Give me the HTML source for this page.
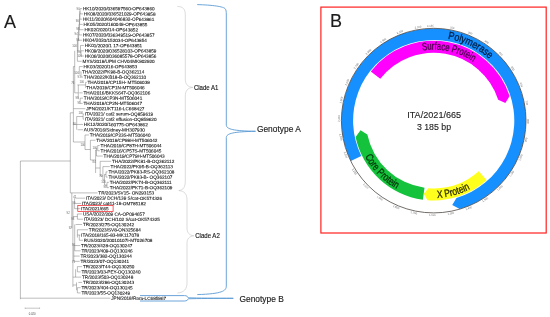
<!DOCTYPE html>
<html><head><meta charset="utf-8"><title>Figure</title>
<style>html,body{margin:0;padding:0;background:#fff}svg{display:block}</style></head>
<body><svg width="550" height="317" viewBox="0 0 550 317">
<rect width="550" height="317" fill="#fff"/>
<g font-family="'Liberation Sans', sans-serif" font-size="4.67" fill="#111" stroke="#111" stroke-width="0.09" text-rendering="geometricPrecision">
<text transform="translate(82.9 10.25) rotate(0.1)">HK10/2020/036597560-OP643860</text>
<text transform="translate(83.8 15.52) rotate(0.1)">HK08/2020/036521029-OP643858</text>
<text transform="translate(82.9 20.78) rotate(0.1)">HK11/2020/604046832-OP643861</text>
<text transform="translate(83.5 26.05) rotate(0.1)">HK05/2020/160049-OP643855</text>
<text transform="translate(84.4 31.31) rotate(0.1)">HK02/2020/14-OP643852</text>
<text transform="translate(82.9 36.58) rotate(0.1)">HK07/2020/036349519-OP643857</text>
<text transform="translate(82.9 41.84) rotate(0.1)">HK04/2020/152034-OP643854</text>
<text transform="translate(84.7 47.11) rotate(0.1)">HK01/2020/1 17-OP643851</text>
<text transform="translate(84.7 52.37) rotate(0.1)">HK09/2020/036528103-OP643859</text>
<text transform="translate(84.7 57.64) rotate(0.1)">HK06/2020/036085578-OP643856</text>
<text transform="translate(82.5 62.90) rotate(0.1)">MYS/2019/UPM CHV04MK902920</text>
<text transform="translate(83.5 68.17) rotate(0.1)">HK03/2020/16-OP643853</text>
<text transform="translate(82.0 73.43) rotate(0.1)">THA/2022/PK98-B-OQ362114</text>
<text transform="translate(83.8 78.70) rotate(0.1)">THA/2022/KB18-B-OQ362110</text>
<text transform="translate(87.5 83.96) rotate(0.1)">THA/2019/CP15H- MT506039</text>
<text transform="translate(86.2 89.23) rotate(0.1)">THA/2019/CP1N-MT506046</text>
<text transform="translate(83.5 94.49) rotate(0.1)">THA/2016/BKKS647-OQ362106</text>
<text transform="translate(83.8 99.76) rotate(0.1)">THA/2019/CP3N-MT506041</text>
<text transform="translate(83.5 105.02) rotate(0.1)">THA/2019/CP2N-MT506047</text>
<text transform="translate(86.2 110.29) rotate(0.1)">JPN/2021/KT116-LC668427</text>
<text transform="translate(84.7 115.55) rotate(0.1)">ITA/2021/ cat2 serum-OQ859619</text>
<text transform="translate(84.7 120.82) rotate(0.1)">ITA/2021/ cat2 effusion-OQ859620</text>
<text transform="translate(83.8 126.08) rotate(0.1)">HK12/2020/160775-OP643862</text>
<text transform="translate(83.8 131.35) rotate(0.1)">AUS/2016/Sidney-MH307930</text>
<text transform="translate(89.7 136.61) rotate(0.1)">THA/2019/CP23S-MT506040</text>
<text transform="translate(96.3 141.88) rotate(0.1)">THA/2019/CP99H-MT506042</text>
<text transform="translate(100.6 147.14) rotate(0.1)">THA/2019/CP87H-MT506044</text>
<text transform="translate(100.6 152.41) rotate(0.1)">THA/2016/CP57S-MT506045</text>
<text transform="translate(103.6 157.67) rotate(0.1)">THA/2019/CP79H-MT506043</text>
<text transform="translate(112.0 162.94) rotate(0.1)">THA/2022/PK81-B-OQ362112</text>
<text transform="translate(110.6 168.20) rotate(0.1)">THA/2022/PK95-B-OQ362113</text>
<text transform="translate(108.4 173.47) rotate(0.1)">THA/2022/PK83-RS-OQ362108</text>
<text transform="translate(108.4 178.73) rotate(0.1)">THA/2022/PK83-B- OQ362107</text>
<text transform="translate(109.7 184.00) rotate(0.1)">THA/2022/PK74-B-OQ362111</text>
<text transform="translate(109.7 189.26) rotate(0.1)">THA/2022/PK71-B-OQ362109</text>
<text transform="translate(98.3 194.53) rotate(0.1)">TR/2023/SV15- ON293153</text>
<text transform="translate(86.0 199.79) rotate(0.1)">ITA/2023/ DCH/139 S/cat-OK574326</text>
<text transform="translate(82.0 205.06) rotate(0.1)">ITA/2023/ cat41-19-OM785182</text>
<text transform="translate(81.1 210.32) rotate(0.1)">ITA/2021/665</text>
<text transform="translate(82.9 215.59) rotate(0.1)">USA/2022/209 CA-OP094657</text>
<text transform="translate(83.8 220.85) rotate(0.1)">ITA/2023/ DCH/102 S/cat-OK574325</text>
<text transform="translate(82.9 226.12) rotate(0.1)">TR/2023/275-OQ130242</text>
<text transform="translate(88.8 231.38) rotate(0.1)">TR/2023/SV8-ON325684</text>
<text transform="translate(81.1 236.65) rotate(0.1)">ITA/2018/165-83-MK117078</text>
<text transform="translate(83.8 241.91) rotate(0.1)">RUS/2020/20010107I-MT026708</text>
<text transform="translate(81.1 247.18) rotate(0.1)">TR/2023/428-OQ130247</text>
<text transform="translate(81.4 252.44) rotate(0.1)">TR/2023/409-OQ130246</text>
<text transform="translate(80.5 257.71) rotate(0.1)">TR/2023/382-OQ130244</text>
<text transform="translate(80.5 262.97) rotate(0.1)">TR/2023/07-OQ130241</text>
<text transform="translate(82.9 268.24) rotate(0.1)">TR/2023/T44-OQ130250</text>
<text transform="translate(81.4 273.50) rotate(0.1)">TR/2023/03-PEY-OQ130240</text>
<text transform="translate(82.0 278.77) rotate(0.1)">TR/2023/503-OQ130248</text>
<text transform="translate(82.9 284.03) rotate(0.1)">TR/2023/296-OQ130243</text>
<text transform="translate(81.4 289.30) rotate(0.1)">TR/2023/404-OQ130245</text>
<text transform="translate(81.4 294.56) rotate(0.1)">TR/2023/55-OQ130249</text>
<text transform="translate(111.2 299.83) rotate(0.1)">JPN/2018/Rara-LC685967</text>
</g>
<g stroke="#585858" stroke-width="0.4" fill="none">
<path d="M80.00 8.63H82.10"/>
<path d="M80.00 13.89H83.00"/>
<path d="M79.80 19.16H82.10"/>
<path d="M79.60 24.42H82.70"/>
<path d="M79.40 29.69H83.60"/>
<path d="M79.00 34.95H82.10"/>
<path d="M78.60 40.22H82.10"/>
<path d="M80.50 45.48H83.90"/>
<path d="M81.00 50.75H83.90"/>
<path d="M81.00 56.02H83.90"/>
<path d="M77.40 61.28H81.70"/>
<path d="M79.30 66.55H82.70"/>
<path d="M80.60 71.81H81.20"/>
<path d="M81.00 77.07H83.00"/>
<path d="M85.60 82.34H86.70"/>
<path d="M85.00 87.60H85.40"/>
<path d="M79.30 92.87H82.70"/>
<path d="M80.20 98.13H83.00"/>
<path d="M80.20 103.40H82.70"/>
<path d="M73.40 108.66H85.40"/>
<path d="M83.10 113.93H83.90"/>
<path d="M83.10 119.19H83.90"/>
<path d="M76.70 124.46H83.00"/>
<path d="M77.60 129.72H83.00"/>
<path d="M85.00 134.99H88.90"/>
<path d="M90.40 140.25H95.50"/>
<path d="M97.70 145.52H99.80"/>
<path d="M97.70 150.78H99.80"/>
<path d="M96.50 156.05H102.80"/>
<path d="M100.20 161.31H111.20"/>
<path d="M102.90 166.58H109.80"/>
<path d="M106.00 171.84H107.60"/>
<path d="M106.00 177.11H107.60"/>
<path d="M107.00 182.37H108.90"/>
<path d="M107.00 187.64H108.90"/>
<path d="M70.30 192.90H97.50"/>
<path d="M75.50 198.17H85.20"/>
<path d="M74.60 203.43H81.20"/>
<path d="M74.60 208.70H80.30"/>
<path d="M77.40 213.96H82.10"/>
<path d="M77.40 219.23H83.00"/>
<path d="M75.60 224.49H82.10"/>
<path d="M77.40 229.76H88.00"/>
<path d="M77.40 235.02H80.30"/>
<path d="M79.30 240.29H83.00"/>
<path d="M74.70 245.55H80.30"/>
<path d="M74.70 250.82H80.60"/>
<path d="M73.80 256.08H79.70"/>
<path d="M73.80 261.35H79.70"/>
<path d="M77.40 266.61H82.10"/>
<path d="M77.40 271.88H80.60"/>
<path d="M75.60 277.14H81.20"/>
<path d="M78.30 282.41H82.10"/>
<path d="M77.40 287.67H80.60"/>
<path d="M77.40 292.94H80.60"/>
<path d="M20.40 298.20H110.40"/>
<path d="M20.40 161.00H70.30"/>
<path d="M70.30 112.80H73.40"/>
<path d="M73.40 142.00H85.00"/>
<path d="M85.00 149.50H90.40"/>
<path d="M90.40 160.00H95.60"/>
<path d="M95.60 168.00H100.20"/>
<path d="M95.60 150.00H96.50"/>
<path d="M77.40 84.94H85.60"/>
<path d="M74.70 92.87H78.30"/>
<path d="M73.40 66.55H74.70"/>
<path d="M73.40 124.46H76.70"/>
<path d="M76.70 116.53H83.10"/>
<path d="M72.90 216.56H77.40"/>
<path d="M72.90 277.14H75.60"/>
<path d="M72.90 285.01H76.50"/>
<path d="M100.20 176.00H102.90"/>
<path d="M102.90 180.00H104.50"/>
<path d="M104.50 174.44H106.00"/>
<path d="M104.50 184.97H107.00"/>
<path d="M80.00 8.63V13.89"/>
<path d="M79.80 11.23V19.16"/>
<path d="M79.60 13.89V24.42"/>
<path d="M79.40 19.16V29.69"/>
<path d="M79.00 24.42V34.95"/>
<path d="M78.60 29.69V40.22"/>
<path d="M81.00 50.75V56.02"/>
<path d="M80.50 45.48V53.35"/>
<path d="M78.00 34.95V50.75"/>
<path d="M77.40 40.22V61.28"/>
<path d="M79.30 66.55V74.41"/>
<path d="M81.00 71.81V77.07"/>
<path d="M74.70 50.75V92.87"/>
<path d="M85.60 82.34V87.60"/>
<path d="M78.30 84.94V99.13"/>
<path d="M80.20 98.13V103.40"/>
<path d="M73.40 66.55V142.00"/>
<path d="M83.10 113.93V119.19"/>
<path d="M76.70 116.53V129.72"/>
<path d="M70.30 112.80V192.90"/>
<path d="M85.00 134.99V149.50"/>
<path d="M90.40 140.25V160.00"/>
<path d="M95.60 150.00V173.00"/>
<path d="M97.70 145.52V150.78"/>
<path d="M96.50 148.12V156.05"/>
<path d="M100.20 161.31V176.00"/>
<path d="M102.90 166.58V180.00"/>
<path d="M106.00 171.84V177.11"/>
<path d="M107.00 182.37V187.64"/>
<path d="M104.50 174.44V184.97"/>
<path d="M71.80 192.90V228.00"/>
<path d="M74.60 198.17V208.70"/>
<path d="M72.90 203.43V287.00"/>
<path d="M77.40 213.96V219.23"/>
<path d="M77.40 229.76V237.62"/>
<path d="M79.30 235.02V240.29"/>
<path d="M74.70 224.49V250.82"/>
<path d="M73.80 245.55V261.35"/>
<path d="M77.40 266.61V271.88"/>
<path d="M75.60 269.21V277.14"/>
<path d="M77.40 287.67V292.94"/>
<path d="M76.50 282.41V290.27"/>
<path d="M20.40 161.00V299.20"/>
</g>
<g font-family="'Liberation Sans', sans-serif" font-size="2.8" fill="#666">
<text x="76.6" y="9.50">90</text>
<text x="75.8" y="21.80">90</text>
<text x="74.6" y="34.80">94</text>
<text x="76.2" y="30.30">98</text>
<text x="72.2" y="46.80">100</text>
<text x="76.2" y="40.80">96</text>
<text x="77.0" y="53.30">99</text>
<text x="77.3" y="57.30">100</text>
<text x="74.3" y="73.80">100</text>
<text x="77.6" y="78.00">91</text>
<text x="71.2" y="83.80">76</text>
<text x="79.5" y="82.80">100</text>
<text x="75.5" y="98.80">99</text>
<text x="77.5" y="104.00">91</text>
<text x="78.5" y="114.30">100</text>
<text x="72.8" y="124.80">80</text>
<text x="80.5" y="145.80">100</text>
<text x="92.5" y="148.80">100</text>
<text x="92.6" y="162.80">84</text>
<text x="99.2" y="177.40">70</text>
<text x="101.2" y="182.80">100</text>
<text x="103.4" y="188.40">98</text>
<text x="73.2" y="198.30">41</text>
<text x="72.2" y="203.80">99</text>
<text x="66.6" y="213.50">92</text>
<text x="71.2" y="219.80">98</text>
<text x="68.8" y="229.30">92</text>
<text x="72.0" y="245.50">96</text>
<text x="72.0" y="262.60">71</text>
</g>
<rect x="77.8" y="205.4" width="35.3" height="6.0" fill="none" stroke="#ee1c25" stroke-width="0.7"/>
<path d="M25.1 308.2H39.6M25.1 307.6V308.8M39.6 307.6V308.8" stroke="#555" stroke-width="0.35" fill="none"/>
<text x="28.8" y="314.5" font-family="'Liberation Sans', sans-serif" font-size="2.7" fill="#444">0.020</text>
<g fill="none" stroke="#c4c4c4" stroke-width="0.6">
<path d="M177.4 6.4 C183 6.6 185.3 9 185.3 15 V79 C185.3 84 187.5 87 192.9 87.4 C187.5 87.8 185.3 91 185.3 96 V181 C185.3 187 183.5 190 178.8 190.6"/>
<path d="M178.8 190.6 C184.5 191 187 194 187 200 V228 C187 232.5 189 235.3 193.9 235.8 C189 236.3 187 239 187 243.5 V283 C187 289 184 292.5 177.5 293"/>
</g>
<g fill="none" stroke="#5b9bd5" stroke-width="0.9">
<path d="M197.2 4.6 C212 5 224 6.5 225.4 9 C226 10 226.3 11.5 226.3 14 V125 C226.3 129.3 234 130.9 255.5 131.3 C234 131.7 226.3 133.3 226.3 137.6 V286 C226.3 291 222 293.8 197.3 294.6"/>
<path d="M140 295.6 H184.5 C186.8 295.6 187.6 296.6 188.3 297.8 C197 298.1 215 298.2 233.3 298.3 C215 298.4 197 298.5 188.3 298.8 C187.6 300 186.8 301 184.5 301 H140"/>
</g>
<g font-family="'Liberation Sans', sans-serif" fill="#1c1c1c" stroke="#1c1c1c" stroke-width="0.15">
<text transform="translate(193.9 89.7) scale(0.905 1)" font-size="6.7">Clade A1</text>
<text transform="translate(195.2 238.1) scale(0.905 1)" font-size="6.7">Clade A2</text>
<text transform="translate(256.9 131.9) scale(0.955 1)" font-size="8.8">Genotype A</text>
<text transform="translate(239.5 301.5) scale(0.955 1)" font-size="8.8">Genotype B</text>
<text x="4.0" y="28.4" font-size="18">A</text>
<text x="330.0" y="27.1" font-size="18">B</text>
</g>
<rect x="320.9" y="7.1" width="225.3" height="225.9" fill="none" stroke="#ff2020" stroke-width="1.2"/>
<path d="M350.83 161.02 A92.20 92.20 0 1 1 459.73 209.05 L452.25 204.98 L456.46 197.92 A80.60 80.60 0 1 0 361.26 155.93 Z" fill="#1690ff"/>
<path d="M370.82 71.47 A79.80 79.80 0 0 1 509.59 95.94 L505.37 103.00 L498.18 99.65 A67.80 67.80 0 0 0 380.27 78.86 Z" fill="#ff00ff"/>
<path d="M422.87 199.66 A79.80 79.80 0 0 1 355.59 136.92 L360.55 130.36 L367.33 134.46 A67.80 67.80 0 0 0 424.50 187.77 Z" fill="#14c23c"/>
<path d="M486.68 180.27 A79.80 79.80 0 0 1 427.44 200.15 L423.81 193.73 L428.38 188.19 A67.80 67.80 0 0 0 478.71 171.30 Z" fill="#ffff1e"/>
<circle cx="433.70" cy="120.60" r="92.3" fill="none" stroke="#4e4842" stroke-width="0.8"/>
<g font-family="'Liberation Sans', sans-serif" font-size="2.7" fill="#6e6e6e" text-anchor="middle">
<text transform="translate(452.08 28.62) rotate(11.30)">100</text>
<text transform="translate(469.76 34.01) rotate(22.61)">200</text>
<text transform="translate(486.03 42.75) rotate(33.91)">300</text>
<text transform="translate(500.27 54.52) rotate(45.21)">400</text>
<text transform="translate(511.93 68.85) rotate(56.51)">500</text>
<text transform="translate(520.56 85.19) rotate(67.82)">600</text>
<text transform="translate(525.81 102.90) rotate(79.12)">700</text>
<text transform="translate(529.00 121.31) rotate(270.42)">800</text>
<text transform="translate(527.01 139.97) rotate(281.73)">900</text>
<text transform="translate(521.40 157.88) rotate(293.03)">1,000</text>
<text transform="translate(512.40 174.35) rotate(304.33)">1,100</text>
<text transform="translate(500.34 188.73) rotate(315.64)">1,200</text>
<text transform="translate(485.69 200.47) rotate(326.94)">1,300</text>
<text transform="translate(469.03 209.11) rotate(338.24)">1,400</text>
<text transform="translate(450.99 214.32) rotate(349.54)">1,500</text>
<text transform="translate(432.29 215.89) rotate(360.85)">1,600</text>
<text transform="translate(413.64 213.77) rotate(372.15)">1,700</text>
<text transform="translate(395.77 208.03) rotate(383.45)">1,800</text>
<text transform="translate(379.37 198.90) rotate(394.76)">1,900</text>
<text transform="translate(365.08 186.73) rotate(406.06)">2,000</text>
<text transform="translate(353.45 172.00) rotate(417.36)">2,100</text>
<text transform="translate(344.93 155.27) rotate(428.67)">2,200</text>
<text transform="translate(339.86 137.20) rotate(439.97)">2,300</text>
<text transform="translate(339.92 118.52) rotate(271.27)">2,400</text>
<text transform="translate(342.15 100.18) rotate(282.57)">2,500</text>
<text transform="translate(347.93 82.63) rotate(293.88)">2,600</text>
<text transform="translate(357.03 66.56) rotate(305.18)">2,700</text>
<text transform="translate(369.11 52.58) rotate(316.48)">2,800</text>
<text transform="translate(383.70 41.24) rotate(327.79)">2,900</text>
<text transform="translate(400.22 32.98) rotate(339.09)">3,000</text>
<text transform="translate(418.04 28.12) rotate(350.39)">3,100</text>
<text transform="translate(430.26 26.86) rotate(357.90)">3,185</text>
</g>
<path id="arc1" d="M447.84 38.71 A83.10 83.10 0 0 1 495.65 65.21" fill="none" stroke="none"/>
<text font-family="'Liberation Sans', sans-serif" font-size="10.60" fill="#001f44" stroke="#001f44" stroke-width="0.3"><textPath href="#arc1" startOffset="0" textLength="46.99" lengthAdjust="spacingAndGlyphs">Polymerase</textPath></text>
<path id="arc2" d="M422.47 50.49 A71.00 71.00 0 0 1 479.24 66.13" fill="none" stroke="none"/>
<text font-family="'Liberation Sans', sans-serif" font-size="10.60" fill="#450045" stroke="#450045" stroke-width="0.3"><textPath href="#arc2" startOffset="0" textLength="53.28" lengthAdjust="spacingAndGlyphs">Surface Protein</textPath></text>
<path id="arc3" d="M364.96 156.39 A77.50 77.50 0 0 0 404.04 192.20" fill="none" stroke="none"/>
<text font-family="'Liberation Sans', sans-serif" font-size="10.60" fill="#04330a" stroke="#04330a" stroke-width="0.3"><textPath href="#arc3" startOffset="0" textLength="45.99" lengthAdjust="spacingAndGlyphs">Core Protein</textPath></text>
<path id="arc4" d="M437.22 198.02 A77.50 77.50 0 0 0 477.15 184.77" fill="none" stroke="none"/>
<text font-family="'Liberation Sans', sans-serif" font-size="10.60" fill="#2e2e00" stroke="#2e2e00" stroke-width="0.3"><textPath href="#arc4" startOffset="0" textLength="34.49" lengthAdjust="spacingAndGlyphs">X Protein</textPath></text>
<g font-family="'Liberation Sans', sans-serif" font-size="8.8" fill="#1e1e1e" stroke="#1e1e1e" stroke-width="0.12" text-anchor="middle">
<text x="434.2" y="117.9" font-size="9.1">ITA/2021/665</text>
<text x="434.0" y="129.6">3 185 bp</text>
</g>
</svg></body></html>
